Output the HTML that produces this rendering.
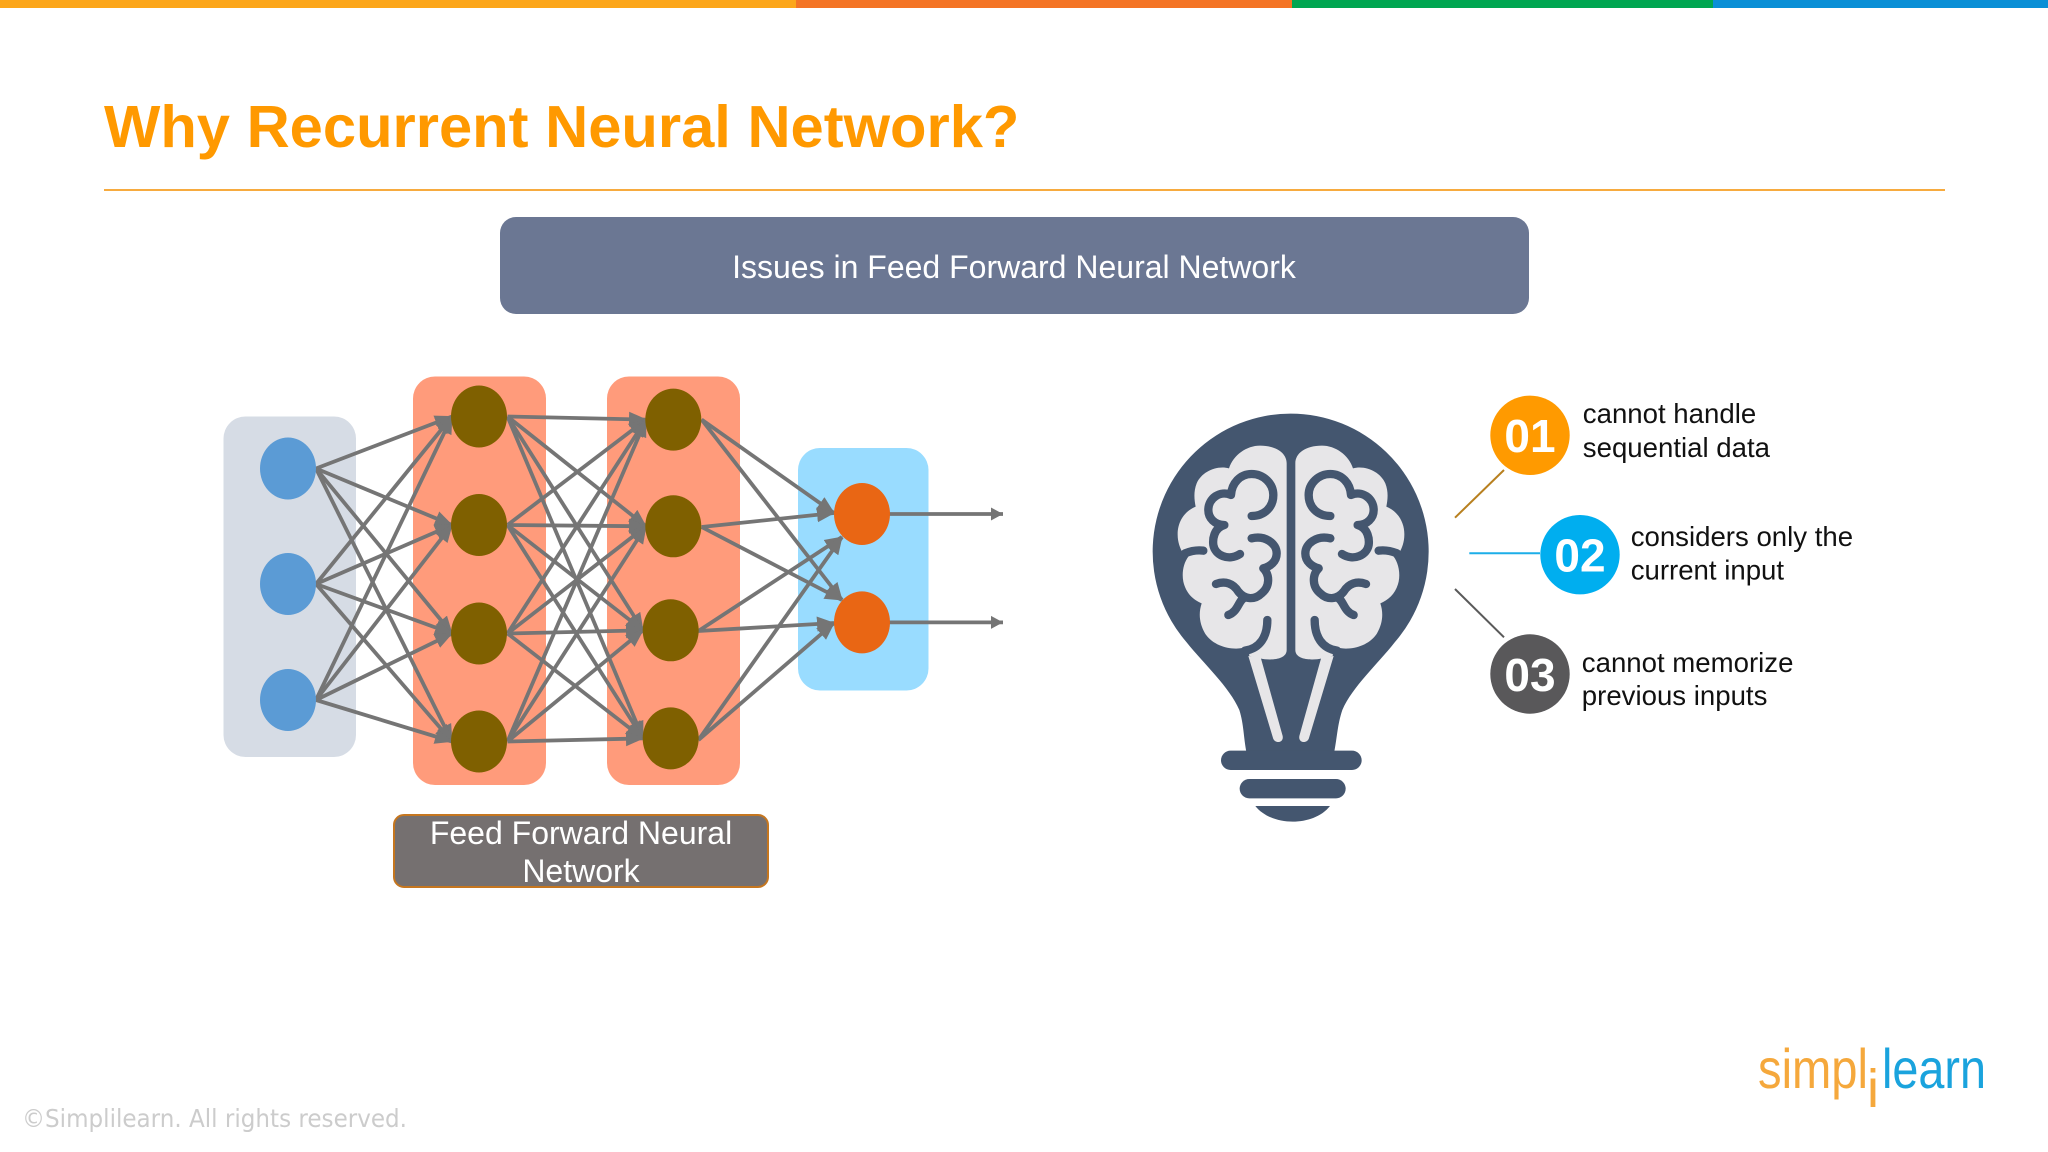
<!DOCTYPE html>
<html lang="en">
<head>
<meta charset="utf-8">
<title>Why Recurrent Neural Network?</title>
<style>
html,body{margin:0;padding:0;background:#fff;}
body{width:2048px;height:1152px;overflow:hidden;}
svg{display:block;font-family:"Liberation Sans",sans-serif;}
</style>
</head>
<body>
<svg xmlns="http://www.w3.org/2000/svg" width="2048" height="1152" viewBox="0 0 2048 1152">
<defs>
<marker id="a" markerUnits="userSpaceOnUse" markerWidth="20" markerHeight="18" refX="17" refY="9" orient="auto"><path d="M0 1.500L18 9L0 16.500Z" fill="#757575"/></marker>
<marker id="b" markerUnits="userSpaceOnUse" markerWidth="14" markerHeight="16" refX="12" refY="8" orient="auto"><path d="M0 1.500L12 8L0 14.500Z" fill="#757575"/></marker>
</defs>
<rect width="2048" height="1152" fill="#fff"/>
<rect x="0" y="0" width="797" height="8" fill="#fca61a"/>
<rect x="796" y="0" width="497" height="8" fill="#f47425"/>
<rect x="1292" y="0" width="421" height="8" fill="#00a651"/>
<rect x="1713" y="0" width="335" height="8" fill="#0a8fd6"/>

<text x="104" y="147" font-size="59.700" font-weight="700" fill="#ff9900">Why Recurrent Neural Network?</text>
<rect x="104" y="189" width="1841" height="2" fill="#f7ab3f"/>

<rect x="500" y="217" width="1029" height="97" rx="16" fill="#6b7793"/>
<text x="1014" y="278" font-size="32" fill="#fff" text-anchor="middle">Issues in Feed Forward Neural Network</text>

<rect x="223.500" y="416.500" width="132.500" height="340.500" rx="22" fill="#d6dce5"/>
<rect x="413" y="376.500" width="133" height="408.500" rx="22" fill="#ff9b7b"/>
<rect x="607" y="376.500" width="133" height="408.500" rx="22" fill="#ff9b7b"/>
<rect x="798" y="448" width="130.500" height="242.500" rx="22" fill="#99dcff"/>

<g stroke="#757575" stroke-width="3.800" fill="none">
<line x1="316" y1="468.500" x2="452" y2="416.500" marker-end="url(#a)"/>
<line x1="316" y1="468.500" x2="452" y2="525" marker-end="url(#a)"/>
<line x1="316" y1="468.500" x2="452" y2="633.500" marker-end="url(#a)"/>
<line x1="316" y1="468.500" x2="452" y2="741.500" marker-end="url(#a)"/>
<line x1="316" y1="584" x2="452" y2="416.500" marker-end="url(#a)"/>
<line x1="316" y1="584" x2="452" y2="525" marker-end="url(#a)"/>
<line x1="316" y1="584" x2="452" y2="633.500" marker-end="url(#a)"/>
<line x1="316" y1="584" x2="452" y2="741.500" marker-end="url(#a)"/>
<line x1="316" y1="700" x2="452" y2="416.500" marker-end="url(#a)"/>
<line x1="316" y1="700" x2="452" y2="525" marker-end="url(#a)"/>
<line x1="316" y1="700" x2="452" y2="633.500" marker-end="url(#a)"/>
<line x1="316" y1="700" x2="452" y2="741.500" marker-end="url(#a)"/>

<line x1="507.500" y1="416.500" x2="646" y2="419.600" marker-end="url(#a)"/>
<line x1="507.500" y1="416.500" x2="646" y2="526.300" marker-end="url(#a)"/>
<line x1="507.500" y1="416.500" x2="643" y2="630.300" marker-end="url(#a)"/>
<line x1="507.500" y1="416.500" x2="643" y2="738.400" marker-end="url(#a)"/>
<line x1="507.500" y1="525" x2="646" y2="419.600" marker-end="url(#a)"/>
<line x1="507.500" y1="525" x2="646" y2="526.300" marker-end="url(#a)"/>
<line x1="507.500" y1="525" x2="643" y2="630.300" marker-end="url(#a)"/>
<line x1="507.500" y1="525" x2="643" y2="738.400" marker-end="url(#a)"/>
<line x1="507.500" y1="633.500" x2="646" y2="419.600" marker-end="url(#a)"/>
<line x1="507.500" y1="633.500" x2="646" y2="526.300" marker-end="url(#a)"/>
<line x1="507.500" y1="633.500" x2="643" y2="630.300" marker-end="url(#a)"/>
<line x1="507.500" y1="633.500" x2="643" y2="738.400" marker-end="url(#a)"/>
<line x1="507.500" y1="741.500" x2="646" y2="419.600" marker-end="url(#a)"/>
<line x1="507.500" y1="741.500" x2="646" y2="526.300" marker-end="url(#a)"/>
<line x1="507.500" y1="741.500" x2="643" y2="630.300" marker-end="url(#a)"/>
<line x1="507.500" y1="741.500" x2="643" y2="738.400" marker-end="url(#a)"/>

<line x1="701.600" y1="419.600" x2="834" y2="513" marker-end="url(#a)"/>
<line x1="701.600" y1="419.600" x2="842" y2="600" marker-end="url(#a)"/>
<line x1="701.600" y1="527" x2="834" y2="513" marker-end="url(#a)"/>
<line x1="701.600" y1="527" x2="842" y2="600" marker-end="url(#a)"/>
<line x1="698.400" y1="631" x2="842" y2="537" marker-end="url(#a)"/>
<line x1="698.400" y1="631" x2="834" y2="623" marker-end="url(#a)"/>
<line x1="698.400" y1="740" x2="842" y2="537" marker-end="url(#a)"/>
<line x1="698.400" y1="740" x2="834" y2="623" marker-end="url(#a)"/>

<line x1="888" y1="514" x2="1003" y2="514" marker-end="url(#b)"/>
<line x1="888" y1="622.400" x2="1003" y2="622.400" marker-end="url(#b)"/>
</g>

<g fill="#5b9bd5">
<ellipse cx="288" cy="468.500" rx="28" ry="31"/>
<ellipse cx="288" cy="584" rx="28" ry="31"/>
<ellipse cx="288" cy="700" rx="28" ry="31"/>
</g>
<g fill="#7f6000">
<ellipse cx="479" cy="416.500" rx="28" ry="31"/>
<ellipse cx="479" cy="525" rx="28" ry="31"/>
<ellipse cx="479" cy="633.500" rx="28" ry="31"/>
<ellipse cx="479" cy="741.500" rx="28" ry="31"/>
<ellipse cx="673.300" cy="419.600" rx="28" ry="31"/>
<ellipse cx="673.300" cy="526.300" rx="28" ry="31"/>
<ellipse cx="670.700" cy="630.300" rx="28" ry="31"/>
<ellipse cx="670.700" cy="738.400" rx="28" ry="31"/>
</g>
<g fill="#e96614">
<ellipse cx="862" cy="514" rx="28" ry="31"/>
<ellipse cx="862" cy="622.400" rx="28" ry="31"/>
</g>

<rect x="394" y="815" width="374" height="72" rx="10" fill="#757070" stroke="#c5761f" stroke-width="2"/>
<text x="581" y="844" font-size="32" fill="#fff" text-anchor="middle">Feed Forward Neural</text>
<text x="581" y="882" font-size="32" fill="#fff" text-anchor="middle">Network</text>

<g transform="translate(1130 400) scale(0.33333)">
<path fill="#44566f" d="M350 1060C340 1010 342 975 328 930C298 860 220 790 170 727A414 414 0 1 1 794 727C745 790 667 860 637 930C622 975 622 1010 612 1060Z"/>
<rect x="273" y="1052" width="422" height="58" rx="29" fill="#44566f"/>
<rect x="329" y="1137" width="318" height="58" rx="29" fill="#44566f"/>
<path fill="#44566f" d="M376 1218H600C575 1250 530 1265 488 1265C446 1265 401 1250 376 1218Z"/>
<g id="h">
<path fill="#e7e6e8" d="M470 190C470 160 440 137 390 137C350 137 310 165 297 205C260 195 215 215 200 250C190 275 193 300 197 320C160 335 142 370 143 405C143 425 150 445 158 458L175 470C160 490 155 520 160 545C168 580 190 600 215 610C205 640 208 670 225 700C250 740 310 755 355 740L358 768L390 775C420 782 470 780 470 750Z"/>
<path fill="#e7e6e8" d="M355 768L392 772L458 1008C462 1030 434 1032 429 1014Z"/>
<g fill="none" stroke="#44566f" stroke-width="25" stroke-linecap="round" stroke-linejoin="round">
<path d="M365 348C405 348 430 320 430 285C430 250 400 222 365 222C330 222 305 250 303 285C270 270 235 295 235 330C235 355 255 375 283 375C250 385 248 420 250 435C255 465 295 485 330 462"/>
<path d="M365 415C405 405 440 430 440 460C440 485 420 500 400 505C420 525 420 560 395 580C375 600 345 600 325 575C310 550 285 542 258 552"/>
<path d="M345 592C325 600 325 635 295 645"/>
<path d="M412 660C412 710 390 745 345 752"/>
<path d="M165 460C185 452 205 450 220 452"/>
</g>
</g>
<use href="#h" transform="translate(966 0) scale(-1 1)"/>
</g>

<line x1="1455" y1="517.700" x2="1504" y2="470" stroke="#b8801f" stroke-width="2"/>
<line x1="1469.300" y1="553.300" x2="1540" y2="553.300" stroke="#1caee8" stroke-width="2"/>
<line x1="1455" y1="589" x2="1504" y2="637.300" stroke="#5a5a5a" stroke-width="2"/>

<circle cx="1530" cy="435.300" r="39.700" fill="#ff9a00"/>
<circle cx="1580" cy="554.700" r="39.700" fill="#00aeef"/>
<circle cx="1530" cy="674" r="39.700" fill="#59585a"/>
<g font-size="46" font-weight="700" fill="#fff" text-anchor="middle">
<text x="1530" y="452">01</text>
<text x="1580" y="571.500">02</text>
<text x="1530" y="691">03</text>
</g>
<g font-size="27.600" fill="#111">
<text x="1582.800" y="423">cannot handle</text>
<text x="1582.800" y="457">sequential data</text>
<text x="1630.700" y="546">considers only the</text>
<text x="1630.700" y="579.500">current input</text>
<text x="1581.800" y="672">cannot memorize</text>
<text x="1581.800" y="705">previous inputs</text>
</g>

<text x="22" y="1127" font-family="'DejaVu Sans',sans-serif" font-size="25" fill="#cccccc" textLength="385" lengthAdjust="spacingAndGlyphs">©Simplilearn. All rights reserved.</text>

<text x="1758" y="1088" font-size="56" fill="#f5a83c" textLength="110" lengthAdjust="spacingAndGlyphs">simpl</text>
<text x="1873" y="1107" font-size="54" fill="#f5a83c" text-anchor="middle">i</text>
<text x="1882" y="1088" font-size="56" fill="#1aa3dd" textLength="104" lengthAdjust="spacingAndGlyphs">learn</text>
</svg>
</body>
</html>
